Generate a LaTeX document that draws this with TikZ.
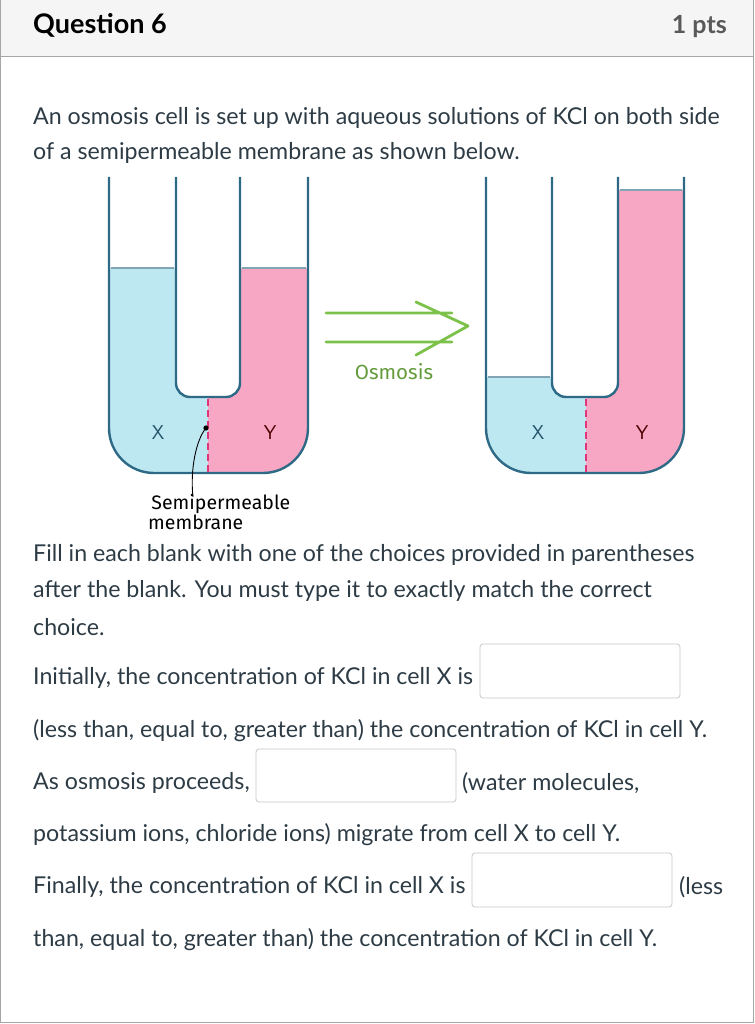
\documentclass[tikz,border=0pt]{standalone}
\usepackage{fontspec}
\setmainfont{Lato}
\newfontfamily\hand{Fira Sans}
\definecolor{tube}{HTML}{2E6A86}
\definecolor{xliq}{HTML}{BDE8F2}
\definecolor{yliq}{HTML}{F7A6C4}
\definecolor{memb}{HTML}{E0357A}
\definecolor{arrowg}{HTML}{7CC24A}
\definecolor{txt}{HTML}{2D3B45}
\begin{document}
\begin{tikzpicture}[x=1pt,y=-1pt,
  body/.style={anchor=west,inner sep=0pt,text=txt,font=\fontsize{23.2}{23}\selectfont},
  blank/.style={draw=black!22,rounded corners=3pt,line width=0.8pt},
  tubeline/.style={draw=tube,line width=2.4pt},
  lab/.style={text=tube!80!black,font=\fontsize{20}{20}\selectfont\sffamily}]
\useasboundingbox (0,0) rectangle (754,1024);
\fill[black!4] (0,0) rectangle (754,57);
\draw[black!35,line width=1pt] (0.5,0) -- (0.5,1022) -- (753.5,1022) -- (753.5,0);
\draw[black!35,line width=1pt] (0,57) -- (754,57);
\node[anchor=west,inner sep=0pt,font=\fontsize{27}{27}\selectfont\bfseries] (q) at (33,25) {Question 6};
\node[anchor=east,inner sep=0pt,text=black!65,font=\fontsize{25}{25}\selectfont\bfseries] (p) at (727,27) {1 pts};
\node[body] (t1) at (33,118) {An osmosis cell is set up with aqueous solutions of KCl on both side};
\node[body] (t2) at (33,153) {of a semipermeable membrane as shown below.};
% left U tube
\begin{scope}
\clip (109,175) [rounded corners=45pt] -- (109,473) -- (308,473) [sharp corners] -- (308,175) -- cycle;
\fill[xliq] (100,268) rectangle (208,480);
\fill[yliq] (208,268) rectangle (315,480);
\fill[white] (176,175) [rounded corners=14pt] -- (176,397) -- (240,397) [sharp corners] -- (240,175) -- cycle;
\end{scope}
\draw[tube!60,line width=1.8pt] (111,268) -- (174,268) (242,268) -- (306,268);
\draw[tubeline,rounded corners=45pt] (109,177) -- (109,473) -- (308,473) -- (308,177);
\draw[tubeline,rounded corners=14pt] (176,177) -- (176,397) -- (240,397) -- (240,177);
\draw[memb,line width=2.2pt,dash pattern=on 7pt off 4pt] (208,399) -- (208,472);
\node[lab] (x1) at (158,433) {X};
\node[lab,text=red!30!black] (y1) at (270,433) {Y};
% membrane label
\fill[black] (206,428) circle (2.6pt);
\coordinate (md) at (206,428);
\node[inner sep=0pt,font=\hand\fontsize{19.5}{16}\selectfont,align=left,anchor=north west] (sm) at (148,494) {\,Semipermeable\\membrane};
\draw[black,line width=0.9pt] (md) .. controls (196,440) and (190,470) .. (193,497);
% arrow
\draw[arrowg,line width=2.8pt,line cap=round,line join=round] (326,313) -- (452,313) (326,342) -- (452,342) (416,302) -- (468,326) -- (416,355);
\node[inner sep=0pt,text=arrowg!80!black,font=\hand\fontsize{20.5}{20}\selectfont] (os) at (394,372) {Osmosis};
% right U tube
\begin{scope}
\clip (486,175) [rounded corners=45pt] -- (486,473) -- (684,473) [sharp corners] -- (684,175) -- cycle;
\fill[xliq] (480,377) rectangle (586,480);
\fill[yliq] (586,190) rectangle (690,480);
\fill[white] (552,175) [rounded corners=14pt] -- (552,397) -- (618,397) [sharp corners] -- (618,175) -- cycle;
\end{scope}
\draw[tube!60,line width=1.8pt] (488,377) -- (550,377) (620,190) -- (682,190);
\draw[tubeline,rounded corners=45pt] (486,177) -- (486,473) -- (684,473) -- (684,177);
\draw[tubeline,rounded corners=14pt] (552,177) -- (552,397) -- (618,397) -- (618,177);
\draw[memb,line width=2.2pt,dash pattern=on 7pt off 4pt] (586,399) -- (586,472);
\node[lab] (x2) at (538,433) {X};
\node[lab,text=red!30!black] (y2) at (642,433) {Y};
% text
\node[body] (t3) at (33,555) {Fill in each blank with one of the choices provided in parentheses};
\node[body] (t4) at (33,591) {after the blank. You must type it to exactly match the correct};
\node[body] (t5) at (33,627) {choice.};
\node[body] (t6) at (33,678) {Initially, the concentration of KCl in cell X is};
\draw[blank] (480,644) rectangle (680,698);
\node[body] (t7) at (33,731) {(less than, equal to, greater than) the concentration of KCl in cell Y.};
\node[body] (t8) at (33,783) {As osmosis proceeds,};
\draw[blank] (256,749) rectangle (456,802);
\node[body] (t9) at (462,783) {(water molecules,};
\node[body] (t10) at (33,835) {potassium ions, chloride ions) migrate from cell X to cell Y.};
\node[body] (t11) at (33,887) {Finally, the concentration of KCl in cell X is};
\draw[blank] (472,853) rectangle (672,907);
\node[body] (t12) at (679,887) {(less};
\node[body] (t13) at (33,940) {than, equal to, greater than) the concentration of KCl in cell Y.};
\end{tikzpicture}
\end{document}
